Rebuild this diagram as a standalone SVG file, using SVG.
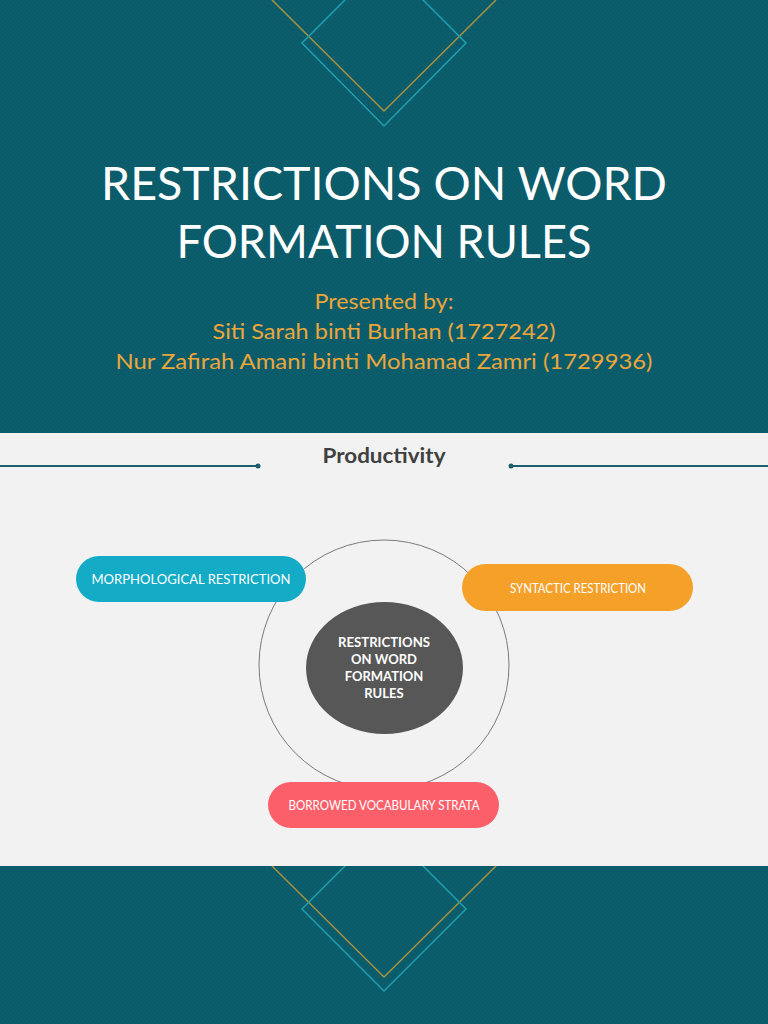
<svg xmlns="http://www.w3.org/2000/svg" width="768" height="1024" viewBox="0 0 768 1024">
<defs>
<pattern id="tex" width="4" height="4" patternUnits="userSpaceOnUse">
<rect width="4" height="4" fill="#0c5d6c"/>
<rect x="0" y="0" width="1" height="1" fill="#0a5665"/>
<rect x="2" y="2" width="1" height="1" fill="#0a5665"/>
<rect x="2" y="0" width="1" height="1" fill="#12656f" opacity="0.6"/>
</pattern>
<style>
.title{font-family:"Lato","Open Sans","Liberation Sans",sans-serif;font-size:46px;fill:#ffffff;text-anchor:middle}
.sub{font-family:"Lato","Open Sans","Liberation Sans",sans-serif;font-size:22px;fill:#eba63a;text-anchor:middle}
.gold{fill:none;stroke:#a8913f;stroke-width:1.5}
.cyan{fill:none;stroke:#1e9eb1;stroke-width:1.5}
.pill{font-family:"Lato","Open Sans","Liberation Sans",sans-serif;font-size:13px;fill:#ffffff;text-anchor:middle}
.core{font-family:"Lato","Open Sans","Liberation Sans",sans-serif;font-size:13px;font-weight:bold;fill:#ffffff;text-anchor:middle}
.rule{stroke:#1d5e6d;stroke-width:2}
</style>
</defs>
<rect x="0" y="0" width="768" height="1024" fill="url(#tex)"/>
<g id="top-ornament">
<polyline class="gold" points="272,0 384,111 496,0"/>
<polygon class="cyan" points="384,-39 466,43 384,126 302,43"/>
</g>
<g id="bottom-ornament">
<polyline class="gold" points="272,866 384,977 496,866"/>
<polygon class="cyan" points="384,827 466,909 384,991 302,909"/>
</g>
<rect x="0" y="433" width="768" height="433" fill="#f2f2f2"/>
<g id="title">
<text class="title" x="384" y="200" textLength="566" lengthAdjust="spacingAndGlyphs">RESTRICTIONS ON WORD</text>
<text class="title" x="384" y="258" textLength="415" lengthAdjust="spacingAndGlyphs">FORMATION RULES</text>
</g>
<g id="presenters">
<text class="sub" x="384" y="309" textLength="139" lengthAdjust="spacingAndGlyphs">Presented by:</text>
<text class="sub" x="384" y="339" textLength="343" lengthAdjust="spacingAndGlyphs">Siti Sarah binti Burhan (1727242)</text>
<text class="sub" x="384" y="369" textLength="537" lengthAdjust="spacingAndGlyphs">Nur Zafirah Amani binti Mohamad Zamri (1729936)</text>
</g>
<g id="heading">
<line class="rule" x1="0" y1="466" x2="258" y2="466"/>
<circle cx="258" cy="466" r="2.5" fill="#1d5e6d"/>
<line class="rule" x1="511" y1="466" x2="768" y2="466"/>
<circle cx="511" cy="466" r="2.5" fill="#1d5e6d"/>
<text x="384" y="463" text-anchor="middle" font-family="Lato, 'DejaVu Sans', sans-serif" font-weight="bold" font-size="20" fill="#404040" textLength="123" lengthAdjust="spacingAndGlyphs">Productivity</text>
</g>
<g id="connectors">
<circle cx="384" cy="665" r="125" fill="none" stroke="#7a7a7a" stroke-width="1"/>
</g>
<g id="center">
<ellipse cx="384.5" cy="668" rx="78.5" ry="66" fill="#575757"/>
<text class="core" x="384" y="647" textLength="92" lengthAdjust="spacingAndGlyphs">RESTRICTIONS</text>
<text class="core" x="384" y="664">ON WORD</text>
<text class="core" x="384" y="681">FORMATION</text>
<text class="core" x="384" y="698">RULES</text>
</g>
<g id="morphological">
<rect x="76" y="556" width="230" height="46" rx="23" fill="#14abc7"/>
<text class="pill" x="191" y="584" textLength="199" lengthAdjust="spacingAndGlyphs">MORPHOLOGICAL RESTRICTION</text>
</g>
<g id="syntactic">
<rect x="462" y="564" width="231" height="47" rx="23.5" fill="#f4a029"/>
<text class="pill" x="578" y="593" font-size="12" textLength="136" lengthAdjust="spacingAndGlyphs">SYNTACTIC RESTRICTION</text>
</g>
<g id="borrowed">
<rect x="268" y="782" width="231" height="46" rx="23" fill="#fb5f6a"/>
<text class="pill" x="384" y="810" font-size="12" textLength="191" lengthAdjust="spacingAndGlyphs">BORROWED VOCABULARY STRATA</text>
</g>
</svg>
